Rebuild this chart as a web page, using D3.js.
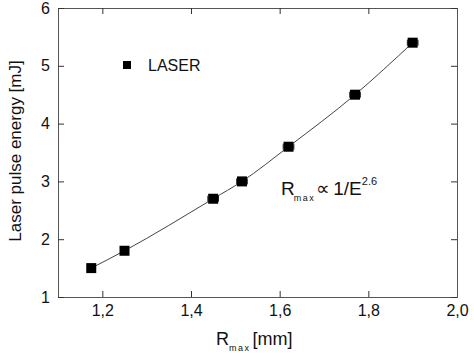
<!DOCTYPE html>
<html>
<head>
<meta charset="utf-8">
<script src="https://cdn.jsdelivr.net/npm/d3@7"></script>
<style>
  body { margin: 0; background: #fff; }
  text { font-family: "Liberation Sans", Arial, sans-serif; fill: #111; }
</style>
</head>
<body>
<svg></svg>
<script>
const width = 474;
const height = 353;
const margin = { top: 8, right: 17, bottom: 56, left: 58 };

// measured radius vs pulse energy
const rmax = [1.175, 1.25, 1.45, 1.515, 1.62, 1.77, 1.90];
const energy = [1.5, 1.8, 2.7, 3.0, 3.6, 4.5, 5.4];
const rErr = [0.006, 0.006, 0.012, 0.012, 0.012, 0.012, 0.012];
const xTicks = [1.2, 1.4, 1.6, 1.8, 2.0];
const yTicks = [1, 2, 3, 4, 5, 6];

const svg = d3.select('svg')
    .attr('width', width)
    .attr('height', height);

const xScale = d3.scaleLinear()
    .domain([1.1, 2.0])
    .range([margin.left, width - margin.right]);
const yScale = d3.scaleLinear()
    .domain([1, 6])
    .range([height - margin.bottom, margin.top]);

const comma = d => d3.format('.1f')(d).replace('.', ',');
const minorX = d3.range(1.15, 2.0, 0.1);
const minorY = d3.range(1.5, 6, 1);
const bottomY = height - margin.bottom;
const rightX = width - margin.right;

// axes: inward ticks, mirrored on top/right
const gx = svg.append('g').attr('transform', `translate(0, ${bottomY})`);
gx.call(d3.axisBottom(xScale).tickValues(xTicks).tickSize(-6).tickPadding(8).tickFormat(comma));
gx.selectAll('.minor').data(minorX).enter().append('line')
    .attr('x1', d => xScale(d)).attr('x2', d => xScale(d))
    .attr('y1', 0).attr('y2', -3);

const gxTop = svg.append('g').attr('transform', `translate(0, ${margin.top})`);
gxTop.call(d3.axisTop(xScale).tickValues(xTicks).tickSize(-6).tickFormat(''));
gxTop.selectAll('.minor').data(minorX).enter().append('line')
    .attr('x1', d => xScale(d)).attr('x2', d => xScale(d))
    .attr('y1', 0).attr('y2', 3);

const gy = svg.append('g').attr('transform', `translate(${margin.left}, 0)`);
gy.call(d3.axisLeft(yScale).tickValues(yTicks).tickSize(-6).tickPadding(8).tickFormat(d3.format('d')));
gy.selectAll('.minor').data(minorY).enter().append('line')
    .attr('y1', d => yScale(d)).attr('y2', d => yScale(d))
    .attr('x1', 0).attr('x2', 3);

const gyRight = svg.append('g').attr('transform', `translate(${rightX}, 0)`);
gyRight.call(d3.axisRight(yScale).tickValues(yTicks).tickSize(-6).tickFormat(''));
gyRight.selectAll('.minor').data(minorY).enter().append('line')
    .attr('y1', d => yScale(d)).attr('y2', d => yScale(d))
    .attr('x1', 0).attr('x2', -3);

svg.selectAll('.domain').attr('stroke', '#555');
svg.selectAll('.tick line, .minor').attr('stroke', '#333');
svg.selectAll('.tick text').style('font-size', '16px').style('fill', '#111');

// fitted curve through the points
const pts = rmax.map((r, i) => [r, energy[i]]);
svg.append('path')
    .datum(pts)
    .attr('fill', 'none')
    .attr('stroke', '#444')
    .attr('stroke-width', 1)
    .attr('d', d3.line().x(d => xScale(d[0])).y(d => yScale(d[1])).curve(d3.curveMonotoneX));

// horizontal error bars
const eb = svg.append('g').attr('stroke', '#222').attr('stroke-width', 1);
rmax.forEach((r, i) => {
  const y = yScale(energy[i]);
  eb.append('line').attr('x1', xScale(r - rErr[i])).attr('x2', xScale(r + rErr[i]))
      .attr('y1', y).attr('y2', y);
  [r - rErr[i], r + rErr[i]].forEach(v => {
    eb.append('line').attr('x1', xScale(v)).attr('x2', xScale(v))
        .attr('y1', y - 3).attr('y2', y + 3);
  });
});

svg.selectAll('.pt')
    .data(pts)
    .enter()
    .append('rect')
    .attr('x', d => xScale(d[0]) - 5)
    .attr('y', d => yScale(d[1]) - 5)
    .attr('width', 10)
    .attr('height', 10)
    .attr('fill', '#000');

// legend
svg.append('rect').attr('x', 123).attr('y', 61).attr('width', 8).attr('height', 8).attr('fill', '#000');
svg.append('text').attr('x', 148).attr('y', 71).style('font-size', '16px').text('LASER');

// annotation
const ann = svg.append('text').attr('x', 281).attr('y', 195).style('font-size', '19px');
ann.append('tspan').text('R');
ann.append('tspan').attr('dx', -1).attr('dy', 6).style('font-size', '9px').attr('letter-spacing', '1.5').text('max');
ann.append('tspan').attr('dx', 1).attr('dy', -6).text('\u221D');
ann.append('tspan').attr('dx', 3).text('1/E');
ann.append('tspan').attr('dy', -10).style('font-size', '11px').text('2.6');

// axis labels
const xl = svg.append('text').attr('x', 216).attr('y', 345).style('font-size', '18px');
xl.append('tspan').text('R');
xl.append('tspan').attr('dx', 0).attr('dy', 6).style('font-size', '9px').attr('letter-spacing', '1.5').text('max');
xl.append('tspan').attr('dx', 2).attr('dy', -6).text('[mm]');

svg.append('text')
    .attr('transform', 'rotate(-90)')
    .attr('x', -151)
    .attr('y', 21)
    .style('text-anchor', 'middle')
    .style('font-size', '17px')
    .text('Laser pulse energy [mJ]');
</script>
</body>
</html>
